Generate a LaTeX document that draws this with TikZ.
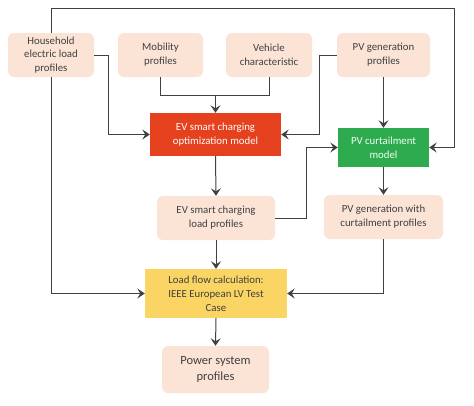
\documentclass[tikz,border=0pt]{standalone}
\usepackage{fontspec}
\setmainfont{Carlito}
\usetikzlibrary{arrows.meta}

\definecolor{peach}{HTML}{FBE4D6}
\definecolor{evred}{HTML}{E5411F}
\definecolor{pvgreen}{HTML}{2EAB4F}
\definecolor{lfyellow}{HTML}{FAD563}
\definecolor{inkgray}{HTML}{404040}

\tikzset{
    databox/.style={fill=peach, rounded corners=6pt, align=center, text=inkgray, inner sep=0pt},
    modelbox/.style={align=center, inner sep=0pt},
    arr/.style={-{Stealth[length=7.5pt,width=10pt,inset=3pt]}, draw=inkgray, line width=1pt},
    ln/.style={draw=inkgray, line width=1pt},
}

\begin{document}
\begin{tikzpicture}[x=1pt,y=-1pt,font=\fontsize{10.8}{13.8}\selectfont]
        \useasboundingbox (0,0) rectangle (474,405);

        % input profiles
        \node[databox, minimum width=86pt, minimum height=44pt] (household) at (51,55) {Household\\electric load\\profiles};
        \node[databox, minimum width=85pt, minimum height=44pt] (mobility) at (160.5,55) {Mobility\\profiles};
        \node[databox, minimum width=86pt, minimum height=44pt] (vehicle) at (269,55) {Vehicle\\characteristic};
        \node[databox, minimum width=93pt, minimum height=44pt] (pvgen) at (383.5,55) {PV generation\\profiles};

        % models
        \node[modelbox, fill=evred, text=white!92!peach, minimum width=131pt, minimum height=43pt] (evopt) at (215.5,134.5) {EV smart charging\\optimization model};
        \node[modelbox, fill=pvgreen, text=white!94!green, minimum width=91pt, minimum height=39pt] (pvcurt) at (383.5,147.5) {PV curtailment\\model};

        % results
        \node[databox, minimum width=118pt, minimum height=44pt] (evload) at (216,218) {EV smart charging\\load profiles};
        \node[databox, minimum width=119pt, minimum height=44pt] (pvcurtprof) at (383.5,217) {PV generation with\\curtailment profiles};
        \node[modelbox, fill=lfyellow, text=inkgray, minimum width=142pt, minimum height=49pt] (loadflow) at (216,293.5) {Load flow calculation:\\IEEE European LV Test\\Case};
        \node[databox, minimum width=107pt, minimum height=47pt, font=\fontsize{12.5}{16}\selectfont] (power) at (215.5,369.5) {Power system\\profiles};

        \coordinate (topright) at (454,8);
        \coordinate (join) at (215.5,95);

        % connectors
        \draw[arr] (household.north) |- (topright) |- (pvcurt.east);
        \draw[arr] (household.east) -- ++(14,0) |- (evopt.west);
        \draw[arr] (household.south) |- (loadflow.west);

        \draw[ln] (mobility.south) |- (join);
        \draw[ln] (vehicle.south) |- (join);
        \draw[arr] (join) -- (evopt.north);

        \draw[arr] (pvgen.west) -- ++(-17,0) |- (evopt.east);
        \draw[arr] (pvgen.south) -- (pvcurt.north);

        \draw[arr] (evopt.south) -- (evload.north);
        \draw[arr] (evload.east) -- ++(31,0) |- (pvcurt.west);
        \draw[arr] (pvcurt.south) -- (pvcurtprof.north);

        \draw[arr] (evload.south) -- (loadflow.north);
        \draw[arr] (pvcurtprof.south) |- (loadflow.east);
        \draw[arr] (loadflow.south) -- (power.north);

\end{tikzpicture}
\end{document}
